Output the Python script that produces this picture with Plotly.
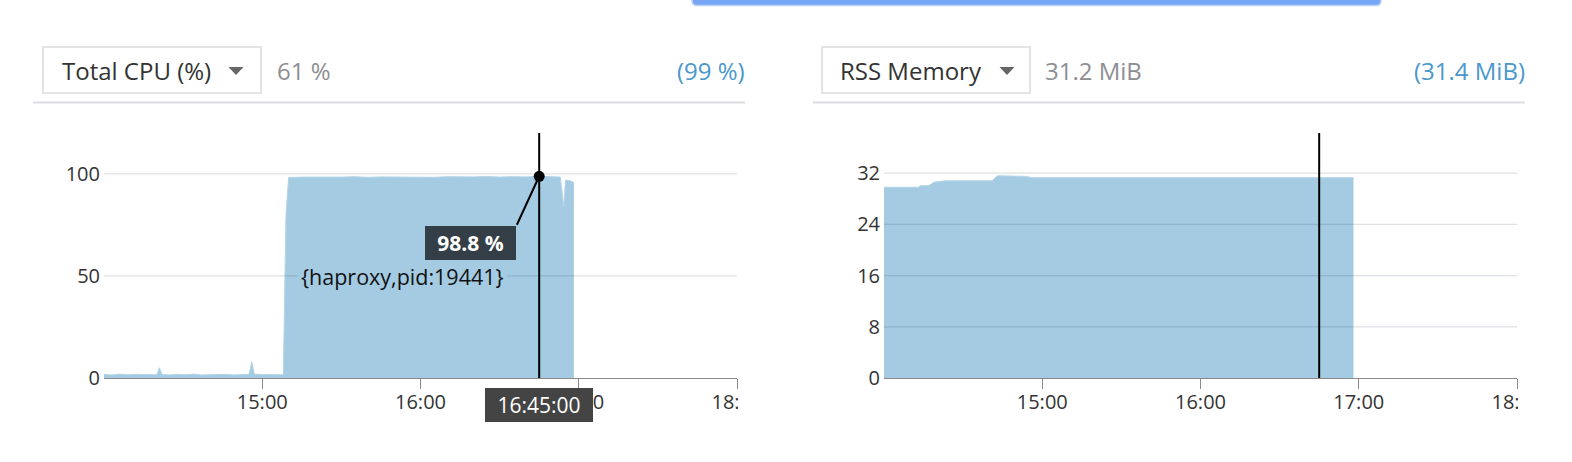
import plotly.graph_objects as go

W, H = 1572, 462
DAY = "2019-06-01 "

# ---------------- data ----------------
cpu_times = ["14:00", "14:03", "14:06", "14:09", "14:12", "14:15", "14:18", "14:20",
             "14:21", "14:22", "14:25", "14:28", "14:31", "14:34", "14:37", "14:40",
             "14:43", "14:46", "14:49", "14:52", "14:55", "14:56", "14:57", "15:00",
             "15:03", "15:06", "15:08", "15:09", "15:10", "15:15", "15:20", "15:25",
             "15:30", "15:35", "15:40", "15:45", "15:50", "15:55", "16:00", "16:05",
             "16:10", "16:15", "16:20", "16:25", "16:30", "16:35", "16:40", "16:45",
             "16:50", "16:53", "16:54:20", "16:55", "16:56", "16:57", "16:58:10"]
cpu_values = [1.8, 1.5, 1.9, 1.6, 1.8, 1.6, 1.7, 1.6,
              5.0, 1.7, 1.5, 1.8, 1.6, 1.9, 1.5, 1.7,
              1.6, 1.8, 1.5, 1.7, 1.8, 8.0, 1.9, 1.7,
              1.6, 1.8, 1.6, 80.0, 98.2, 98.4, 98.3, 98.5,
              98.4, 98.6, 98.3, 98.5, 98.4, 98.6, 98.5, 98.3,
              98.6, 98.4, 98.5, 98.7, 98.4, 98.6, 98.5, 98.8,
              98.6, 98.4, 84.0, 97.0, 96.7, 96.5, 95.7]

mem_times = ["14:00", "14:13", "14:14", "14:17", "14:19", "14:23", "14:41", "14:43",
             "14:54", "14:56", "16:58"]
mem_values = [29.8, 29.8, 30.05, 30.05, 30.6, 30.8, 30.8, 31.6, 31.5, 31.3, 31.3]

x_range = ["14:00", "18:00"]
x_ticks = ["15:00", "16:00", "17:00", "18:00"]
cpu_yticks = [0, 50, 100]
mem_yticks = [0, 8, 16, 24, 32]

cpu_title, cpu_avg, cpu_peak = "Total CPU (%)", "61 %", "(99 %)"
mem_title, mem_avg, mem_peak = "RSS Memory", "31.2 MiB", "(31.4 MiB)"

hover_time = "16:45"
hover_time_label = "16:45:00"
hover_value = 98.8
hover_value_label = "98.8 %"
hover_series = "{haproxy,pid:19441}"

# ---------------- styling ----------------
FONT = "Open Sans"
FILL = "#a4cbe2"
TXT = "#333333"


def fx(px):
    return px / W


def fy(py):
    return 1 - py / H


def T(t):
    return DAY + t


fig = go.Figure()

fig.add_trace(go.Scatter(
    x=[T(t) for t in cpu_times], y=cpu_values, mode="lines",
    line=dict(color="#b3d5e9", width=1), fill="tozeroy", fillcolor=FILL,
    xaxis="x", yaxis="y", hoverinfo="skip", showlegend=False))

fig.add_trace(go.Scatter(
    x=[T(t) for t in mem_times], y=mem_values, mode="lines",
    line=dict(color="#b3d5e9", width=1), fill="tozeroy", fillcolor=FILL,
    xaxis="x2", yaxis="y2", hoverinfo="skip", showlegend=False))

fig.add_trace(go.Scatter(
    x=[T(hover_time)], y=[hover_value], mode="markers",
    marker=dict(color="black", size=11), xaxis="x", yaxis="y",
    hoverinfo="skip", showlegend=False))

y_dom = [fy(378), fy(133)]
xa = dict(
    type="date", range=[T(x_range[0]), T(x_range[1])],
    tickvals=[T(t) for t in x_ticks], ticktext=x_ticks,
    ticks="outside", ticklen=10, tickwidth=1.3, tickcolor="#8a8a8a",
    showline=True, linecolor="#8a8a8a", linewidth=1.3, ticklabelstandoff=-4,
    showgrid=False, zeroline=False, fixedrange=True, automargin=False,
    tickfont=dict(family=FONT, size=20, color=TXT))
ya = dict(
    showgrid=False, zeroline=False, showline=False, ticks="", automargin=False,
    tickfont=dict(family=FONT, size=20, color=TXT), ticklabelstandoff=3,
    domain=y_dom, fixedrange=True)

shapes = []
annotations = []

# gridlines drawn over the area (darker inside the fill)
for v in cpu_yticks[1:]:
    shapes.append(dict(type="line", xref="x domain", yref="y", x0=0, x1=1, y0=v, y1=v,
                       line=dict(color="rgba(20,40,70,0.14)", width=1.3), layer="above"))
for v in mem_yticks[1:]:
    shapes.append(dict(type="line", xref="x2 domain", yref="y2", x0=0, x1=1, y0=v, y1=v,
                       line=dict(color="rgba(20,40,70,0.14)", width=1.3), layer="above"))

# clip the last tick label at the plot edge
for xr in (737, 1517):
    shapes.append(dict(type="rect", xref="paper", yref="paper",
                       x0=fx(xr + 1.5), x1=fx(xr + 60), y0=fy(440), y1=fy(385),
                       fillcolor="white", line=dict(width=0), layer="above"))

# hover vertical lines
shapes.append(dict(type="line", xref="x", yref="paper", x0=T(hover_time), x1=T(hover_time),
                   y0=y_dom[0], y1=y_dom[1], line=dict(color="black", width=2), layer="above"))
shapes.append(dict(type="line", xref="x2", yref="paper", x0=T(hover_time), x1=T(hover_time),
                   y0=y_dom[0], y1=y_dom[1], line=dict(color="black", width=2), layer="above"))

# time label pointer
shapes.append(dict(type="path", xref="x", yref="y", xsizemode="pixel", ysizemode="pixel",
                   xanchor=T(hover_time), yanchor=0,
                   path="M -10,-10 L 10,-10 L 0,0 Z",
                   fillcolor="#444444", line=dict(width=0), layer="above"))

# header: separators
for x0, x1 in ((33, 745), (813, 1525)):
    shapes.append(dict(type="line", xref="paper", yref="paper", x0=fx(x0), x1=fx(x1),
                       y0=fy(102.5), y1=fy(102.5), line=dict(color="#dedee2", width=2)))

# header: dropdown boxes
for x0, x1 in ((43, 261), (822, 1030)):
    shapes.append(dict(type="rect", xref="paper", yref="paper", x0=fx(x0), x1=fx(x1),
                       y0=fy(93), y1=fy(47), line=dict(color="#dcdcdc", width=1.5),
                       fillcolor="white"))

# header: dropdown triangles
for cx in (236, 1007):
    shapes.append(dict(type="path", xref="paper", yref="paper",
                       path=f"M {fx(cx-7.5)},{fy(67)} L {fx(cx+7.5)},{fy(67)} L {fx(cx)},{fy(75)} Z",
                       fillcolor="#666666", line=dict(width=0)))

# top blue bar (partially visible control)
r = 5
x0, x1, yb = 692, 1381, 5.5
path = (f"M {fx(x0)},{fy(-2)} L {fx(x0)},{fy(yb - r)} "
        f"Q {fx(x0)},{fy(yb)} {fx(x0 + r)},{fy(yb)} L {fx(x1 - r)},{fy(yb)} "
        f"Q {fx(x1)},{fy(yb)} {fx(x1)},{fy(yb - r)} L {fx(x1)},{fy(-2)} Z")
shapes.append(dict(type="path", xref="paper", yref="paper", path=path,
                   fillcolor="#76a5f3", line=dict(color="#b9d0f7", width=1.5)))

# header texts
def hdr(x, text, color, anchor="left", size=24):
    annotations.append(dict(xref="paper", yref="paper", x=fx(x), y=fy(71), text=text,
                            showarrow=False, xanchor=anchor, yanchor="middle",
                            font=dict(family=FONT, size=size, color=color)))

hdr(60, cpu_title, TXT)
hdr(275, cpu_avg, "#8e8e93")
hdr(747, cpu_peak, "#4a98cc", "right")
hdr(838, mem_title, TXT)
hdr(1043, mem_avg, "#8e8e93")
hdr(1527, mem_peak, "#4a98cc", "right")

# tooltip pieces
annotations.append(dict(xref="x", yref="y", x=T(hover_time), y=hover_value, text=hover_series,
                        showarrow=False, xanchor="center", yanchor="middle",
                        xshift=-137, yshift=-100, bgcolor=FILL, borderpad=3,
                        font=dict(family=FONT, size=21.5, color="#111111")))
annotations.append(dict(xref="x", yref="y", x=T(hover_time), y=hover_value, text="",
                        showarrow=True, arrowhead=0, arrowwidth=2, arrowcolor="black",
                        ax=-23, ay=50, axref="pixel", ayref="pixel", standoff=0))
annotations.append(dict(xref="x", yref="y", x=T(hover_time), y=hover_value,
                        text=f"<b>{hover_value_label}</b>", showarrow=False,
                        xanchor="right", yanchor="top", xshift=-23, yshift=-50,
                        width=87, height=30, borderpad=1, bgcolor="#343e46",
                        bordercolor="#343e46",
                        font=dict(family=FONT, size=21, color="white")))
annotations.append(dict(xref="x", yref="paper", x=T(hover_time), y=y_dom[0],
                        text=hover_time_label, showarrow=False,
                        xanchor="center", yanchor="top", yshift=-10,
                        width=104, height=30, borderpad=1, bgcolor="#444444",
                        bordercolor="#444444",
                        font=dict(family=FONT, size=21, color="white")))

fig.update_layout(
    width=W, height=H, margin=dict(l=0, r=0, t=0, b=0, autoexpand=False),
    paper_bgcolor="white", plot_bgcolor="white",
    font=dict(family=FONT, color=TXT),
    xaxis=dict(xa, domain=[fx(104), fx(737)], anchor="y"),
    yaxis=dict(ya, range=[0, 120], tickvals=cpu_yticks, anchor="x"),
    xaxis2=dict(xa, domain=[fx(884), fx(1517)], anchor="y2"),
    yaxis2=dict(ya, range=[0, 38.28], tickvals=mem_yticks, anchor="x2"),
    shapes=shapes, annotations=annotations, hovermode=False,
)

fig.write_html(
    "out.html",
    config={"displayModeBar": False},
    post_script="document.body.style.margin='0';document.body.style.padding='0';"
                "document.body.style.overflow='hidden';"
                "document.documentElement.style.overflow='hidden';",
)
